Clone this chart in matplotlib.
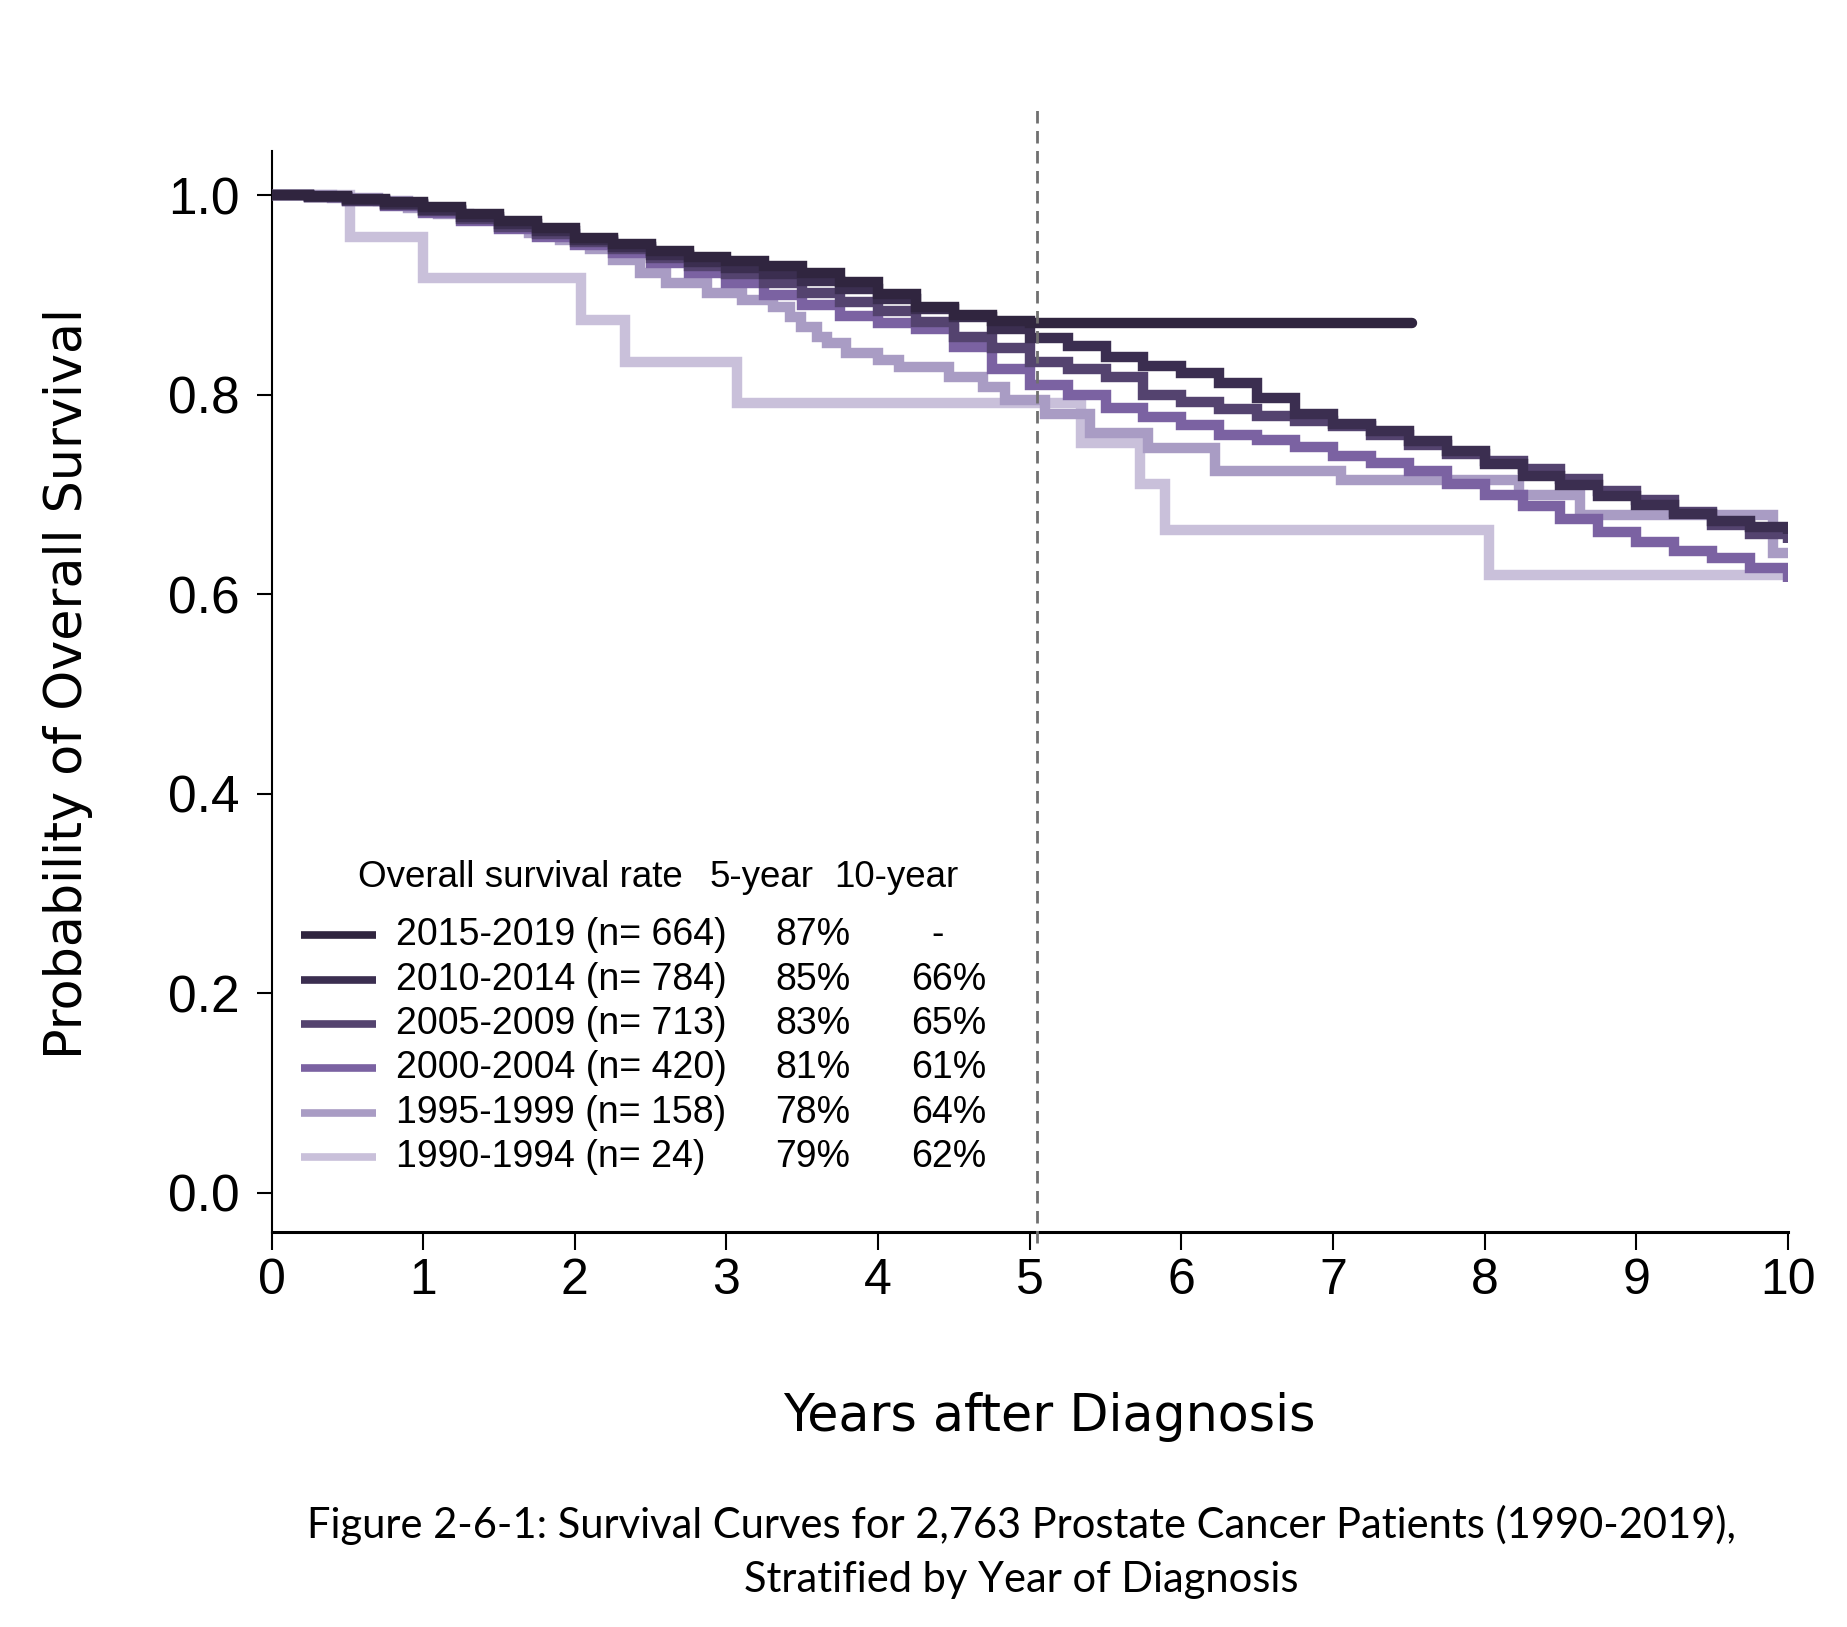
import numpy as np
import matplotlib
matplotlib.use('Agg')
import matplotlib.pyplot as plt
from matplotlib import font_manager

installed = {f.name for f in font_manager.fontManager.ttflist}
narrow = 'Liberation Sans Narrow' in installed
if narrow:
    plt.rcParams['font.family'] = ['Liberation Sans Narrow', 'DejaVu Sans']
    fs_leg, fs_head, fs_ytick, fs_xtick = 31, 30, 42, 41
else:
    plt.rcParams['font.family'] = ['Liberation Sans', 'DejaVu Sans']
    fs_leg, fs_head, fs_ytick, fs_xtick = 27, 26.5, 37, 36

# Kaplan-Meier step points (years, survival)
t_2015 = [0, 0.25, 0.5, 0.75, 1.0, 1.25, 1.5, 1.75, 2.0, 2.25, 2.5, 2.75, 3.0, 3.25,
          3.5, 3.75, 4.0, 4.25, 4.5, 4.75, 5.0, 7.52]
s_2015 = [1.0, 0.999, 0.996, 0.993, 0.988, 0.981, 0.974, 0.967, 0.957, 0.951, 0.944, 0.938,
          0.934, 0.929, 0.922, 0.913, 0.901, 0.888, 0.880, 0.874, 0.872, 0.872]

t_2010 = [0, 0.25, 0.5, 0.75, 1.0, 1.25, 1.5, 1.75, 2.0, 2.25, 2.5, 2.75, 3.0, 3.25, 3.5,
          3.75, 4.0, 4.25, 4.5, 4.75, 5.0, 5.25, 5.5, 5.75, 6.0, 6.25, 6.5, 6.75, 7.0, 7.25,
          7.5, 7.75, 8.0, 8.25, 8.5, 8.75, 9.0, 9.25, 9.5, 9.75, 10.0]
s_2010 = [1.0, 0.998, 0.995, 0.991, 0.985, 0.978, 0.971, 0.964, 0.955, 0.948, 0.940, 0.933,
          0.927, 0.921, 0.914, 0.906, 0.896, 0.886, 0.878, 0.866, 0.857, 0.849, 0.838, 0.829,
          0.822, 0.812, 0.797, 0.781, 0.771, 0.764, 0.754, 0.744, 0.731, 0.719, 0.709, 0.698,
          0.689, 0.680, 0.673, 0.667, 0.660]

t_2005 = t_2010
s_2005 = [1.0, 0.998, 0.994, 0.990, 0.984, 0.976, 0.968, 0.961, 0.953, 0.946, 0.937, 0.929,
          0.921, 0.912, 0.902, 0.893, 0.884, 0.873, 0.858, 0.847, 0.833, 0.826, 0.818, 0.800,
          0.793, 0.786, 0.779, 0.774, 0.769, 0.760, 0.750, 0.741, 0.734, 0.726, 0.716, 0.703,
          0.694, 0.682, 0.669, 0.660, 0.651]

t_2000 = t_2010
s_2000 = [1.0, 0.998, 0.994, 0.989, 0.982, 0.974, 0.966, 0.958, 0.950, 0.942, 0.932, 0.922,
          0.912, 0.900, 0.890, 0.879, 0.872, 0.866, 0.848, 0.826, 0.810, 0.800, 0.787, 0.778,
          0.770, 0.760, 0.755, 0.748, 0.739, 0.732, 0.724, 0.710, 0.699, 0.688, 0.675, 0.662,
          0.652, 0.643, 0.636, 0.626, 0.612]

t_1995 = [0, 0.4, 0.7, 0.9, 1.1, 1.3, 1.5, 1.7, 1.9, 2.1, 2.25, 2.43, 2.6, 2.87, 3.1, 3.31,
          3.42, 3.49, 3.6, 3.66, 3.79, 4.0, 4.14, 4.47, 4.69, 4.84, 5.1, 5.4, 5.78, 6.22,
          7.05, 8.23, 8.63, 9.9, 10.0]
s_1995 = [1.0, 0.997, 0.994, 0.987, 0.981, 0.975, 0.969, 0.962, 0.955, 0.946, 0.935, 0.922,
          0.912, 0.902, 0.895, 0.888, 0.878, 0.868, 0.858, 0.852, 0.842, 0.835, 0.828, 0.818,
          0.808, 0.795, 0.781, 0.762, 0.747, 0.724, 0.714, 0.699, 0.679, 0.641, 0.641]

t_1990 = [0, 0.52, 1.0, 2.04, 2.33, 3.07, 5.34, 5.73, 5.89, 8.03, 10.0]
s_1990 = [1.0, 0.958, 0.917, 0.875, 0.833, 0.792, 0.752, 0.710, 0.664, 0.619, 0.619]

periods = ['2015-2019', '2010-2014', '2005-2009', '2000-2004', '1995-1999', '1990-1994']
n_patients = [664, 784, 713, 420, 158, 24]
rate_5y = ['87%', '85%', '83%', '81%', '78%', '79%']
rate_10y = ['-', '66%', '65%', '61%', '64%', '62%']
colors = ['#30253f', '#3b2e50', '#54436f', '#7b62a2', '#a99cc4', '#c9c0da']
times = [t_2015, t_2010, t_2005, t_2000, t_1995, t_1990]
surv = [s_2015, s_2010, s_2005, s_2000, s_1995, s_1990]

landmark = 5.05

fig = plt.figure(figsize=(18.47, 16.27), dpi=100)
ax = fig.add_axes([0.147, 0.243, 0.821, 0.664])

# lightest first so the darker curves sit on top
for i in reversed(range(len(periods))):
    cap = 'round' if i == 0 else 'butt'
    ax.step(times[i], surv[i], where='post', color=colors[i], lw=7.5,
            solid_capstyle=cap, solid_joinstyle='miter', zorder=3 + (5 - i))

ax.plot([landmark, landmark], [-0.05, 1.092], color='#707070', lw=2,
        dashes=(4.5, 2.7), clip_on=False, zorder=10)

ax.set_xlim(0, 10)
ax.set_ylim(-0.039, 1.044)
ax.set_xticks(range(0, 11))
ax.set_yticks([0.0, 0.2, 0.4, 0.6, 0.8, 1.0])
ax.set_yticklabels(['0.0', '0.2', '0.4', '0.6', '0.8', '1.0'])
ax.tick_params(axis='y', length=11, width=1.5, pad=12, labelsize=fs_ytick)
ax.tick_params(axis='x', length=13, width=1.5, pad=6, labelsize=fs_xtick)
for side in ['top', 'right']:
    ax.spines[side].set_visible(False)
ax.spines['left'].set_linewidth(1.5)
ax.spines['bottom'].set_linewidth(2.2)

# legend table
ax.text(0.57, 0.316, 'Overall survival rate', fontsize=fs_head, va='center')
ax.text(2.89, 0.316, '5-year', fontsize=fs_head, va='center')
ax.text(3.71, 0.316, '10-year', fontsize=fs_head, va='center')
row_y = 0.258
for i in range(len(periods)):
    y = row_y - i * 0.0444
    ax.plot([0.195, 0.69], [y, y], color=colors[i], lw=5.5, solid_capstyle='butt')
    ax.text(0.82, y, f'{periods[i]} (n= {n_patients[i]})', fontsize=fs_leg, va='center')
    ax.text(3.32, y, rate_5y[i], fontsize=fs_leg, va='center')
    if rate_10y[i] == '-':
        ax.text(4.39, y, rate_10y[i], fontsize=fs_leg, va='center', ha='center')
    else:
        ax.text(4.22, y, rate_10y[i], fontsize=fs_leg, va='center')

fig.text(0.037, 0.580, 'Probability of Overall Survival', rotation=90,
         fontsize=36.5, family='DejaVu Sans', ha='center', va='center')
fig.text(0.568, 0.129, 'Years after Diagnosis', fontsize=36.5,
         family='DejaVu Sans', ha='center', va='center')
fig.text(0.553, 0.063, 'Figure 2-6-1: Survival Curves for 2,763 Prostate Cancer Patients (1990-2019),',
         fontsize=30, family=['Lato', 'DejaVu Sans'], ha='center', va='center')
fig.text(0.553, 0.029, 'Stratified by Year of Diagnosis',
         fontsize=30, family=['Lato', 'DejaVu Sans'], ha='center', va='center')

fig.savefig('out.png', dpi=100)
